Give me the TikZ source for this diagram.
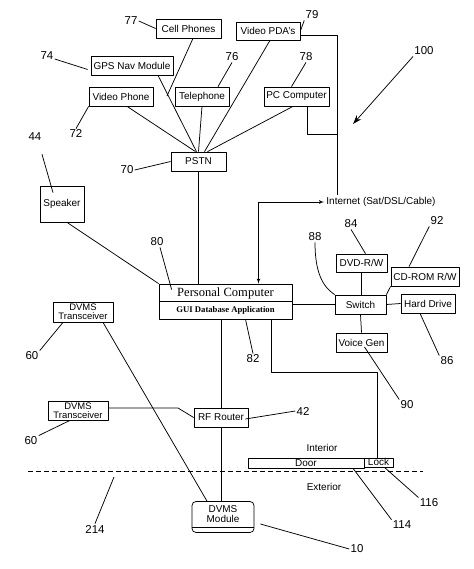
\documentclass[tikz,border=0pt]{standalone}
\usepackage{fontspec}
\setmainfont{Liberation Sans}
\newfontfamily\pcfont{Liberation Serif}
\usetikzlibrary{arrows,arrows.meta}

\begin{document}
\begin{tikzpicture}[>=latex',line join=bevel,x=1bp,y=-1bp,line width=0.75pt,
  box/.style={draw,inner sep=1bp,font=\fontsize{10}{12}\selectfont},
  small/.style={box,inner sep=0.5bp,align=center,font=\fontsize{9.5}{9.5}\selectfont},
  num/.style={inner sep=1bp,font=\fontsize{11.5}{13}\selectfont},
  txt/.style={inner sep=2bp,font=\fontsize{10}{12}\selectfont}]
\useasboundingbox (0,0) rectangle (474,569);
%%
\node (cell) at (188.5,28.5) [box,minimum width=65bp,minimum height=19bp] {Cell Phones};
  \node (pda) at (268,31) [box,minimum width=64bp,minimum height=18bp] {Video PDA's};
  \node (gps) at (132,65.5) [box,minimum width=82bp,minimum height=19bp] {GPS Nav Module};
  \node (vphone) at (121,96.5) [box,minimum width=64bp,minimum height=19bp] {Video Phone};
  \node (tel) at (202,96.5) [box,minimum width=54bp,minimum height=19bp] {Telephone};
  \node (pcc) at (296.5,96.5) [box,minimum width=65bp,minimum height=19bp] {PC Computer};
  \node (pstn) at (198.5,161.5) [box,minimum width=55bp,minimum height=19bp] {PSTN};
  \node (spk) at (62,204) [box,minimum width=44bp,minimum height=36bp] {Speaker};
  \node (net) at (381,202) [txt] {Internet (Sat/DSL/Cable)};
  \node (pc) at (225.5,301.5) [box,minimum width=133bp,minimum height=35bp] {};
  \node (pctop) at (225.5,293) [inner sep=0,font=\pcfont\fontsize{12.6}{14}\selectfont] {Personal Computer};
  \node (pcbot) at (225.5,310.5) [inner sep=0,font=\pcfont\bfseries\fontsize{8.7}{10}\selectfont] {GUI Database Application};
  \node (dvd) at (361.5,263) [box,minimum width=51bp,minimum height=18bp] {DVD-R/W};
  \node (cdrom) at (425,276.5) [box,minimum width=68bp,minimum height=19bp] {CD-ROM R/W};
  \node (sw) at (360.5,304.5) [box,minimum width=51bp,minimum height=19bp] {Switch};
  \node (hd) at (428,303.5) [box,minimum width=54bp,minimum height=19bp] {Hard Drive};
  \node (vgen) at (361.5,342.5) [box,minimum width=51bp,minimum height=19bp] {Voice Gen};
  \node (tr1) at (83,312) [small,minimum width=60bp,minimum height=20bp] {DVMS\\Transceiver};
  \node (tr2) at (78,410.5) [small,minimum width=60bp,minimum height=19bp] {DVMS\\Transceiver};
  \node (rf) at (221,417.5) [box,minimum width=54bp,minimum height=19bp] {RF Router};
  \node (interior) at (322,448) [txt] {Interior};
  \node (exterior) at (324,487) [txt] {Exterior};
  \node (door) at (306,463) [draw,inner sep=0,minimum width=116bp,minimum height=10bp,text height=7bp,text depth=1bp,font=\fontsize{10}{12}\selectfont] {Door};
  \node (lock) at (378.5,462.5) [draw,inner sep=0,minimum width=29bp,minimum height=9bp,text height=7bp,text depth=1bp,font=\fontsize{10}{12}\selectfont] {Lock};
  \node (dvms) at (223,517) [box,rounded corners=4bp,minimum width=62bp,minimum height=31bp] {};
  \node (dvmst) at (223,514) [inner sep=0,align=center,font=\fontsize{10}{10}\selectfont] {DVMS\\Module};
%% reference numerals
\node (n77) at (131,21) [num] {77};
  \node (n74) at (47,56) [num] {74};
  \node (n76) at (232,57) [num] {76};
  \node (n72) at (76,134) [num] {72};
  \node (n79) at (312,15) [num] {79};
  \node (n78) at (306,57) [num] {78};
  \node (n100) at (424,51) [num] {100};
  \node (n70) at (127,170) [num] {70};
  \node (n44) at (35,137) [num] {44};
  \node (n80) at (157,242) [num] {80};
  \node (n84) at (351,224) [num] {84};
  \node (n92) at (437,221) [num] {92};
  \node (n88) at (315,237) [num] {88};
  \node (n86) at (447,361) [num] {86};
  \node (n82) at (253,359) [num] {82};
  \node (n90) at (407,405) [num] {90};
  \node (n60a) at (32,356) [num] {60};
  \node (n60b) at (31,441) [num] {60};
  \node (n42) at (303,411) [num] {42};
  \node (n214) at (95,529) [num] {214};
  \node (n10) at (357,549) [num] {10};
  \node (n114) at (402,525) [num] {114};
  \node (n116) at (429,503) [num] {116};
\coordinate (cj) at (167,96);
  \coordinate (pj) at (337,134);
  \coordinate (lk) at (377,372);
  \coordinate (rj) at (178,408);
  \coordinate (c100) at (353,124);
  \coordinate (c214) at (114,477);
  \coordinate (dl) at (28,471);
  \coordinate (dr) at (423,471);
%% connections
\draw ([xshift=4.5bp]cell.south) -- (cj);
  \draw ([xshift=26bp]gps.south) -- ([xshift=-2bp]pstn.north);
  \draw ([xshift=6bp]vphone.south) -- ([xshift=-3bp]pstn.north);
  \draw (tel.south) -- (pstn.north);
  \draw ([xshift=2bp]pda.south) -- ([xshift=6bp]pstn.north);
  \draw ([xshift=-3.5bp]pcc.south) -- ([xshift=9bp]pstn.north);
  \draw ([yshift=-4bp]pda.east) -| ([xshift=13bp]net.north west);
  \draw ([xshift=10.5bp]pcc.south) |- (pj);
  \draw (pstn.south) -- (pstn.south |- pc.north);
  \draw ([xshift=5bp]spk.south) -- (pc.north west);
  \draw [<->] (net.west) -| ([xshift=33bp]pc.north);
  \draw (pc.west) -- (pc.east);
  \draw (sw.west) -- (sw.west -| pc.east);
  \draw (dvd.south) -- (dvd.south |- sw.north);
  \draw (sw.north east) -- (cdrom.south west);
  \draw (sw.east) -- (hd.west);
  \draw (sw.south) -- (vgen.north);
  \draw ([xshift=45.5bp]pc.south) |- (lk) -- (lk |- lock.north);
  \draw (rf.north) -- (rf.north |- pc.south);
  \draw (rf.south) -- (rf.south |- dvms.north);
  \draw ([xshift=20bp]tr1.south) -- ([xshift=-16bp]dvms.north);
  \draw (tr2.east |- rj) -- (rj) -- (rf.west);
  \draw ([yshift=-10bp]dvms.west) -- ([yshift=-10bp]dvms.east);
  \draw [dash pattern=on 5bp off 3bp] (dl) -- (dr);
%% leaders
\draw (n77.east) -- (cell.west);
  \draw ([yshift=-3bp]n74.east) -- ([xshift=-3bp,yshift=-4bp]gps.west);
  \draw (n76.south) -- ([xshift=16bp]tel.north);
  \draw (n72.north) -- (vphone.south west);
  \draw (n79.south west) -- (pda.east);
  \draw (n78.south) -- ([xshift=-5bp]pcc.north);
  \draw [-{Stealth[length=9bp,width=6bp]}] (n100.south west) -- (c100);
  \draw (n70.east) -- (pstn.west);
  \draw ([xshift=7bp,yshift=-12bp]n44.south) -- ([xshift=-9bp,yshift=-7bp]spk.north);
  \draw ([xshift=3bp]n80.south) -- ([xshift=13bp,yshift=-6bp]pc.north west);
  \draw (n84.south) -- ([xshift=4bp]dvd.north);
  \draw (n92.south west) -- ([xshift=-16bp]cdrom.north);
  \draw (n88.south) .. controls ([yshift=-30bp]n88.south) and ([xshift=-12bp,yshift=8bp]sw.north west) .. (sw.north west);
  \draw (n86.north west) -- ([xshift=-8bp]hd.south);
  \draw (n82.north) -- ([xshift=20bp]pc.south);
  \draw ([xshift=3bp,yshift=-4.5bp]vgen.center) -- (n90.north west);
  \draw (n60a.north east) -- ([xshift=-20bp]tr1.south);
  \draw (n60b.north east) -- ([xshift=-8bp]tr2.south);
  \draw (n42.west) -- ([xshift=-3bp,yshift=-1.5bp]rf.east);
  \draw (n214.north) -- (c214);
  \draw (n10.west) -- ([xshift=6bp,yshift=-7bp]dvms.east);
  \draw (n114.north west) -- ([xshift=47bp]door.south);
  \draw (n116.north west) -- ([xshift=6bp]lock.south);
%
\end{tikzpicture}
\end{document}
